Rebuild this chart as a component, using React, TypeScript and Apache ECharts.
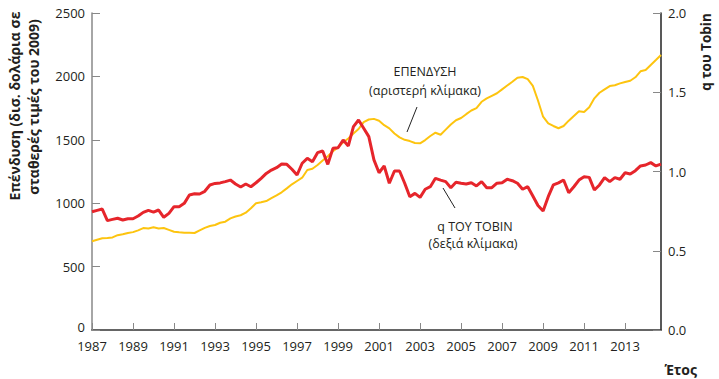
import React, { useEffect, useRef } from "react";
import * as echarts from "echarts";

// Quarterly observations, 1987 Q1 .. 2014 Q4
const startYear = 1987;
const investment: number[] = [
  700, 712, 723, 726,
  730, 748, 755, 765,
  772, 786, 804, 800,
  810, 800, 804, 790,
  775, 770, 767, 766,
  765, 785, 805, 820,
  828, 846, 854, 880,
  895, 905, 925, 960,
  1000, 1008, 1017, 1040,
  1062, 1086, 1117, 1149,
  1175, 1201, 1262, 1272,
  1301, 1336, 1370, 1410,
  1440, 1480, 1510, 1550,
  1585, 1640, 1660, 1665,
  1650, 1615, 1590, 1550,
  1519, 1500, 1490, 1475,
  1472, 1498, 1530, 1556,
  1540, 1580, 1620, 1654,
  1672, 1702, 1731, 1750,
  1800, 1826, 1847, 1867,
  1898, 1928, 1958, 1990,
  1995, 1978, 1925, 1810,
  1682, 1630, 1609, 1591,
  1609, 1651, 1688, 1725,
  1719, 1756, 1827, 1871,
  1898, 1924, 1930, 1945,
  1956, 1966, 1993, 2040,
  2050, 2090, 2129, 2169,
];
const tobinQ: number[] = [
  0.746, 0.755, 0.763, 0.69,
  0.698, 0.705, 0.694, 0.702,
  0.702, 0.719, 0.742, 0.755,
  0.744, 0.757, 0.711, 0.736,
  0.778, 0.778, 0.799, 0.852,
  0.86, 0.858, 0.875, 0.915,
  0.925, 0.928, 0.936, 0.946,
  0.921, 0.902, 0.921, 0.904,
  0.929, 0.957, 0.988, 1.009,
  1.024, 1.047, 1.045, 1.014,
  0.978, 1.052, 1.083, 1.062,
  1.119, 1.129, 1.045, 1.146,
  1.15, 1.199, 1.161, 1.283,
  1.325, 1.273, 1.22, 1.073,
  0.992, 1.035, 0.926, 1.003,
  1.003, 0.926, 0.841, 0.862,
  0.837, 0.888, 0.904, 0.957,
  0.946, 0.936, 0.898, 0.932,
  0.926, 0.921, 0.929, 0.909,
  0.936, 0.898, 0.898, 0.926,
  0.929, 0.951, 0.942, 0.926,
  0.888, 0.904, 0.845, 0.785,
  0.751, 0.841, 0.915, 0.928,
  0.946, 0.866, 0.904, 0.946,
  0.967, 0.963, 0.883, 0.915,
  0.961, 0.936, 0.961, 0.951,
  0.992, 0.984, 1.005, 1.035,
  1.041, 1.056, 1.035, 1.047,
];
const yearTicks: number[] = [1987, 1989, 1991, 1993, 1995, 1997, 1999, 2001, 2003, 2005, 2007, 2009, 2011, 2013];
const leftTicks: number[] = [0, 500, 1000, 1500, 2000, 2500];
const rightTicks: number[] = [0, 0.5, 1, 1.5, 2];

const FONT = "'Open Sans', 'Noto Sans', sans-serif";
const TXT = "#231f20";

export default function App() {
  const ref = useRef<HTMLDivElement>(null);
  useEffect(() => {
    if (!ref.current) return;
    const chart = echarts.init(ref.current, undefined, { renderer: "svg" });
    const xOf = (i: number) => startYear + i * 0.25;
    const lastX = xOf(investment.length - 1);
    const labelStyle = { color: TXT, fontFamily: FONT, fontSize: 13, lineHeight: 12 };
    chart.setOption({
      animation: false,
      grid: { left: 92, right: 58, top: 13, bottom: 49 },
      xAxis: {
        type: "value",
        min: startYear,
        max: lastX,
        interval: 2,
        axisLine: { show: true, lineStyle: { color: "#333", width: 1.5 } },
        axisTick: { show: true, inside: true, length: 7, customValues: yearTicks, lineStyle: { color: "#888" } },
        axisLabel: { ...labelStyle, margin: 10, customValues: yearTicks, formatter: (v: number) => String(v) },
        splitLine: { show: false },
      },
      yAxis: [
        {
          type: "value",
          min: leftTicks[0],
          max: leftTicks[leftTicks.length - 1],
          interval: 500,
          axisLine: { show: true, lineStyle: { color: "#888", width: 1.5 } },
          axisTick: { show: true, inside: true, length: 8, lineStyle: { color: "#888" } },
          axisLabel: {
            ...labelStyle,
            margin: 7,
            formatter: (v: number) => (v === 0 ? "{z|0}" : String(v)),
            rich: { z: { color: TXT, fontFamily: FONT, fontSize: 13, lineHeight: 12, padding: [0, 0, 6, 0] } },
          },
          splitLine: { show: false },
        },
        {
          type: "value",
          min: rightTicks[0],
          max: rightTicks[rightTicks.length - 1],
          interval: 0.5,
          position: "right",
          axisLine: { show: true, lineStyle: { color: "#222", width: 1.5 } },
          axisTick: { show: true, inside: true, length: 8, lineStyle: { color: "#888" } },
          axisLabel: { ...labelStyle, margin: 7, formatter: (v: number) => v.toFixed(1) },
          splitLine: { show: false },
        },
      ],
      series: [
        {
          type: "line",
          yAxisIndex: 0,
          data: investment.map((v, i) => [xOf(i), v]),
          showSymbol: false,
          lineStyle: { color: "#fdc40f", width: 2 },
          itemStyle: { color: "#fdc40f" },
        },
        {
          type: "line",
          yAxisIndex: 1,
          data: tobinQ.map((v, i) => [xOf(i), v]),
          showSymbol: false,
          lineStyle: { color: "#e6252b", width: 3 },
          itemStyle: { color: "#e6252b" },
        },
      ],
      graphic: [
        {
          type: "text", x: 14, y: 106, rotation: Math.PI / 2,
          style: { text: "Επένδυση (δισ. δολάρια σε", fontFamily: FONT, fontWeight: "bold", fontSize: 14, fill: TXT, textAlign: "center", textVerticalAlign: "middle" },
        },
        {
          type: "text", x: 33, y: 107, rotation: Math.PI / 2,
          style: { text: "σταθερές τιμές του 2009)", fontFamily: FONT, fontWeight: "bold", fontSize: 14, fill: TXT, textAlign: "center", textVerticalAlign: "middle" },
        },
        {
          type: "text", x: 706, y: 52, rotation: Math.PI / 2,
          style: { text: "q του Tobin", fontFamily: FONT, fontWeight: "bold", fontSize: 13.5, fill: TXT, textAlign: "center", textVerticalAlign: "middle" },
        },
        {
          type: "text", x: 697, y: 369,
          style: { text: "Έτος", fontFamily: FONT, fontWeight: "bold", fontSize: 14, fill: TXT, textAlign: "right", textVerticalAlign: "middle" },
        },
        {
          type: "text", x: 425, y: 71,
          style: { text: "ΕΠΕΝΔΥΣΗ", fontFamily: FONT, fontSize: 12.5, fill: TXT, textAlign: "center", textVerticalAlign: "middle" },
        },
        {
          type: "text", x: 425, y: 90,
          style: { text: "(αριστερή κλίμακα)", fontFamily: FONT, fontSize: 12.5, fill: TXT, textAlign: "center", textVerticalAlign: "middle" },
        },
        {
          type: "line",
          shape: { x1: 417, y1: 107, x2: 407, y2: 132 },
          style: { stroke: "#222", lineWidth: 1 },
        },
        {
          type: "text", x: 475, y: 226,
          style: { text: "q ΤΟΥ TOBIN", fontFamily: FONT, fontSize: 12.5, fill: TXT, textAlign: "center", textVerticalAlign: "middle" },
        },
        {
          type: "text", x: 473, y: 243,
          style: { text: "(δεξιά κλίμακα)", fontFamily: FONT, fontSize: 12.5, fill: TXT, textAlign: "center", textVerticalAlign: "middle" },
        },
        {
          type: "line",
          shape: { x1: 443, y1: 188, x2: 455, y2: 208 },
          style: { stroke: "#222", lineWidth: 1 },
        },
      ],
    });
    return () => chart.dispose();
  }, []);
  return (
    <div
      ref={ref}
      style={{ position: "fixed", left: 0, top: 0, width: 719, height: 379, background: "#fff" }}
    />
  );
}
